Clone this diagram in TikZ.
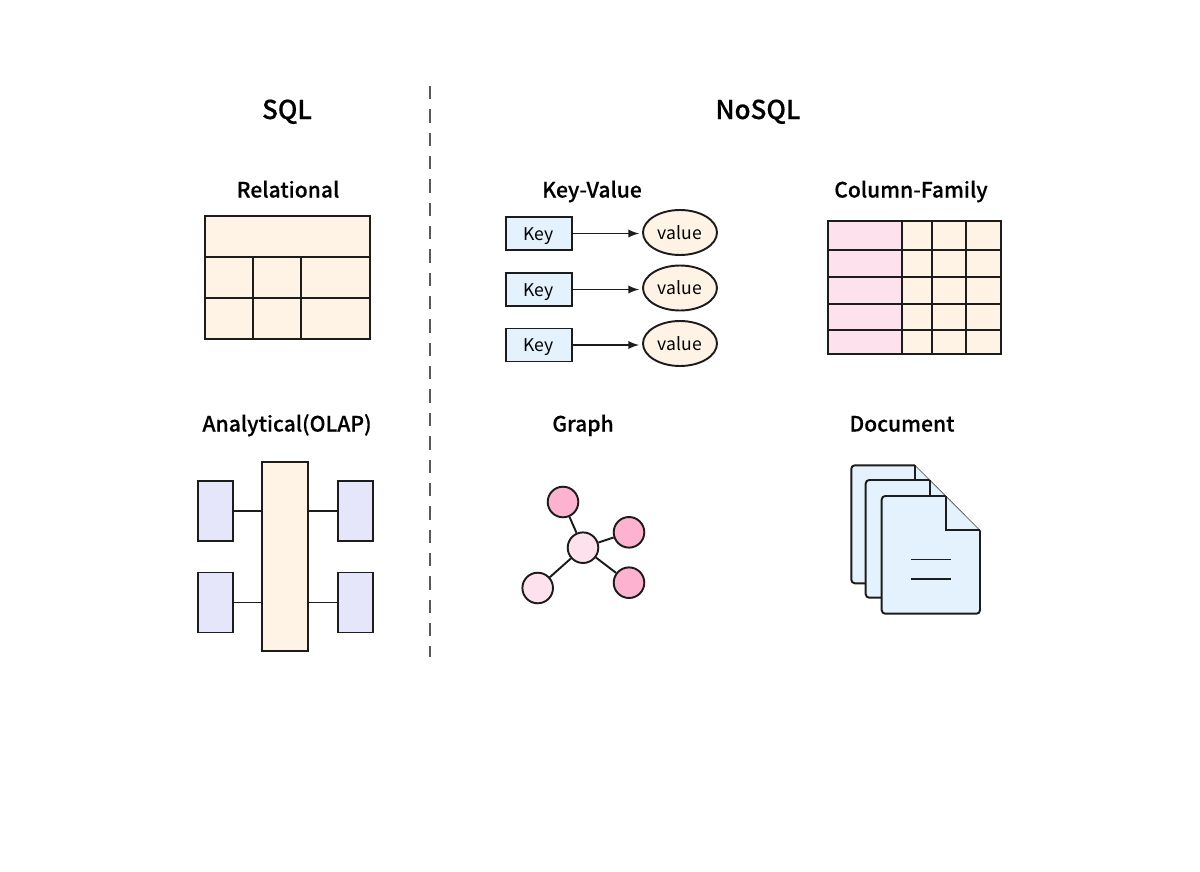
\documentclass[tikz,border=0pt]{standalone}
\usepackage{fontspec}
\setmainfont{Noto Sans CJK SC Medium}[FakeBold=.35]
\newfontfamily\plainfont{Noto Sans CJK SC}
\usetikzlibrary{arrows,shapes.geometric}
\definecolor{cream}{HTML}{FEF3E4}
\definecolor{skyblue}{HTML}{E3F2FD}
\definecolor{lavender}{HTML}{E6E6FB}
\definecolor{lightpink}{HTML}{FDE2EE}
\definecolor{rosepink}{HTML}{FDB2D0}
\definecolor{inkline}{HTML}{1C1C1C}
\tikzset{
	head/.style={anchor=base, font=\fontsize{14.8}{18}\selectfont},
	title/.style={anchor=base, font=\fontsize{12}{14}\selectfont},
	small/.style={anchor=base, font=\plainfont\fontsize{10}{12}\selectfont},
	line/.style={draw=inkline, line width=1.1pt},
	keybox/.style={line, rectangle, fill=skyblue, minimum width=1.32cm, minimum height=.66cm, inner sep=0},
	valbox/.style={line, ellipse, fill=cream, minimum width=1.48cm, minimum height=.9cm, inner sep=0},
	hub/.style={line, rectangle, fill=cream, minimum width=.932cm, minimum height=3.79cm, inner sep=0},
	side/.style={line, rectangle, fill=lavender, minimum width=.7cm, minimum height=1.2cm, inner sep=0},
	dot/.style={line, circle, minimum size=.612cm, inner sep=0},
	page/.style={line, fill=skyblue},
}

\begin{document}
\begin{tikzpicture}
	[x=.02cm,y=-.02cm]
	\useasboundingbox (0,0) rectangle (1200,872);

	\node[head] (sql) at (287,119) {SQL};
	\node[head] (nosql) at (758,119) {NoSQL};
	\draw[draw=black!65, line width=1.1pt, dash pattern=on .267cm off .2cm] (430,86) -- (430,657);

	\node[title] (rel) at (288,197.5) {Relational};
	\node[title] (kv) at (592,197.5) {Key-Value};
	\node[title] (cf) at (911,197.5) {Column-Family};
	\node[title] (olap) at (287,431.5) {Analytical(OLAP)};
	\node[title] (graph) at (583,431.5) {Graph};
	\node[title] (doc) at (902,431.5) {Document};

	% relational table
	\draw[line, fill=cream] (205,216) rectangle (370,339);
	\foreach \y in {257,298}
		\draw[line] (205,\y) -- (370,\y);
	\foreach \x in {253.3,300.7}
		\draw[line] (\x,257) -- (\x,339);

	% key-value
	\foreach \i/\y/\v in {1/233.5/232.5,2/289.5/288,3/345/343.5} {
		\node[keybox] (k\i) at (538.7,\y) {};
		\node[valbox] (v\i) at (680,\v) {};
		\node[small] (kt\i) at (538.7,\y+6.5) {Key};
		\node[small] (vt\i) at (680,\v+6.5) {value};
		\draw[line, -latex, shorten >=.06cm] (k\i.east) -- (k\i.east -| v\i.west);
	}

	% column family
	\fill[lightpink] (828,221) rectangle (902,354);
	\fill[cream] (902,221) rectangle (1001,354);
	\foreach \y in {250,276.7,303.7,330.3}
		\draw[line] (828,\y) -- (1001,\y);
	\foreach \x in {902,932.3,965.7}
		\draw[line] (\x,221) -- (\x,354);
	\draw[line] (828,221) rectangle (1001,354);

	% olap
	\node[hub] (h) at (285,556.5) {};
	\node[side] (s1) at (215.8,510.7) {};
	\node[side] (s2) at (215.8,602.5) {};
	\node[side] (s3) at (355.8,510.7) {};
	\node[side] (s4) at (355.8,602.5) {};
	\foreach \i in {1,2}
		\draw[line] (s\i.east) -- (s\i.east -| h.west);
	\foreach \i in {3,4}
		\draw[line] (s\i.west) -- (s\i.west -| h.east);

	% graph
	\node[dot, fill=lightpink] (g0) at (583,547.7) {};
	\node[dot, fill=rosepink] (g1) at (563,502) {};
	\node[dot, fill=rosepink] (g2) at (629,532.3) {};
	\node[dot, fill=rosepink] (g3) at (629,582.7) {};
	\node[dot, fill=lightpink] (g4) at (537.7,588) {};
	\foreach \i in {1,2,3,4}
		\draw[line] (g0) -- (g\i);

	% document pages, back to front
	\foreach \px/\pt/\pf/\pb in {851.3/465.3/915/583.3,865.7/480/929.7/597.7,881.7/496/945.7/613.7} {
		\filldraw[page] (\pf,\pt) [rounded corners=.07cm] -- (\px,\pt) -- (\px,\pb) -- ({\pf+34.3},\pb) -- ({\pf+34.3},{\pt+34.3});
		\draw[draw=black!60, line width=.4pt] (\pf,\pt) -- ({\pf+34.3},{\pt+34.3});
		\draw[line] (\pf,\pt) -- (\pf,{\pt+34.3}) -- ({\pf+34.3},{\pt+34.3});
	}
	\draw[line, line width=.9pt] (911,559.7) -- (951,559.7);
	\draw[line, line width=.9pt] (911,579) -- (951,579);
\end{tikzpicture}
\end{document}
